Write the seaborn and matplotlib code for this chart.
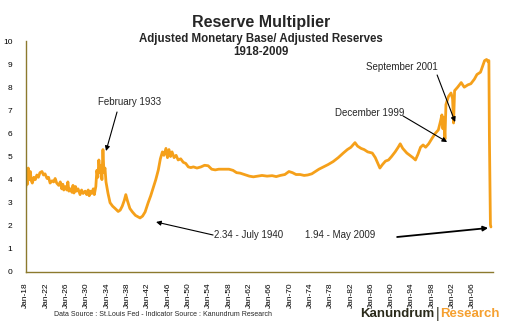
import numpy as np
import pandas as pd
import matplotlib
matplotlib.use("Agg")
import matplotlib.pyplot as plt
import seaborn as sns

# ---- data (fractional year, reserve multiplier) ----
years = [
    1918.0, 1918.2, 1918.35, 1918.5, 1918.7, 1918.9, 1919.1, 1919.3, 1919.6, 1919.9,
    1920.2, 1920.5, 1920.8, 1921.2, 1921.5, 1921.8, 1922.2, 1922.5, 1922.8, 1923.2,
    1923.5, 1923.8, 1924.1, 1924.5, 1924.8, 1925.1, 1925.3, 1925.5, 1925.8, 1926.1,
    1926.3, 1926.5, 1926.8, 1927.1, 1927.3, 1927.5, 1927.8, 1928.0, 1928.3, 1928.7,
    1929.0, 1929.3, 1929.7, 1930.0, 1930.3, 1930.5, 1930.8, 1931.0, 1931.3, 1931.5,
    1931.8, 1932.0, 1932.2, 1932.4, 1932.6, 1932.8, 1933.0, 1933.2, 1933.4, 1933.6,
    1933.8, 1934.2, 1934.6, 1935.1, 1935.6, 1936.2, 1936.6, 1937.0, 1937.4, 1937.7,
    1938.0, 1938.5, 1939.0, 1939.6, 1940.5, 1941.0, 1941.5, 1942.1, 1942.6, 1943.1,
    1943.6, 1944.1, 1944.5, 1944.9, 1945.2, 1945.6, 1945.9, 1946.2, 1946.5, 1946.8,
    1947.2, 1947.6, 1948.0, 1948.5, 1949.0, 1949.5, 1950.0, 1950.5, 1951.0, 1951.7,
    1952.5, 1953.2, 1953.9, 1954.6, 1955.3, 1956.0, 1957.0, 1958.0, 1958.8, 1959.5,
    1960.2, 1961.0, 1962.0, 1962.8, 1963.6, 1964.5, 1965.5, 1966.5, 1967.3, 1968.1,
    1969.0, 1969.8, 1970.5, 1971.2, 1972.0, 1972.8, 1973.5, 1974.3, 1975.0, 1975.7,
    1976.6, 1977.5, 1978.5, 1979.5, 1980.5, 1981.3, 1982.0, 1982.8, 1983.3, 1984.0,
    1984.6, 1985.3, 1986.2, 1986.8, 1987.4, 1987.7, 1988.2, 1988.8, 1989.4, 1990.0,
    1990.7, 1991.3, 1991.7, 1992.2, 1993.0, 1993.6, 1994.2, 1994.7, 1995.2, 1995.7,
    1996.2, 1996.7, 1997.3, 1998.0, 1998.6, 1999.2, 1999.6, 1999.9, 2000.1, 2000.3,
    2000.5, 2000.7, 2001.2, 2001.7, 2002.0, 2002.2, 2002.4, 2003.0, 2003.7, 2004.3,
    2005.0, 2005.6, 2006.3, 2006.8, 2007.5, 2007.9, 2008.3, 2008.7, 2009.0, 2009.15,
    2009.25, 2009.45, 2009.55,
]
multiplier = [
    3.65, 4.10, 3.80, 4.50, 4.00, 4.35, 3.95, 3.85, 4.10, 4.00,
    4.20, 4.10, 4.30, 4.35, 4.20, 4.25, 4.05, 4.10, 3.85, 3.95,
    3.90, 4.05, 3.85, 3.75, 3.90, 3.60, 3.80, 3.55, 3.70, 3.55,
    3.90, 3.50, 3.60, 3.45, 3.75, 3.42, 3.70, 3.50, 3.60, 3.35,
    3.55, 3.40, 3.50, 3.35, 3.55, 3.30, 3.50, 3.40, 3.60, 3.35,
    3.70, 4.40, 4.10, 4.85, 4.30, 4.60, 4.00, 5.30, 4.30, 4.50,
    3.90, 3.40, 3.00, 2.85, 2.75, 2.62, 2.68, 2.85, 3.10, 3.35,
    3.10, 2.75, 2.60, 2.45, 2.34, 2.42, 2.60, 3.00, 3.30, 3.65,
    4.00, 4.42, 4.90, 5.20, 5.05, 5.35, 4.95, 5.30, 5.00, 5.20,
    4.95, 5.05, 4.85, 4.90, 4.75, 4.70, 4.55, 4.52, 4.55, 4.50,
    4.55, 4.62, 4.60, 4.45, 4.42, 4.45, 4.45, 4.45, 4.40, 4.30,
    4.28, 4.22, 4.15, 4.12, 4.15, 4.18, 4.15, 4.17, 4.13, 4.18,
    4.22, 4.35, 4.30, 4.22, 4.22, 4.18, 4.20, 4.25, 4.35, 4.45,
    4.55, 4.65, 4.78, 4.95, 5.15, 5.30, 5.40, 5.60, 5.45, 5.35,
    5.30, 5.20, 5.15, 4.95, 4.65, 4.50, 4.65, 4.80, 4.85, 5.00,
    5.20, 5.40, 5.55, 5.35, 5.15, 5.05, 4.95, 4.85, 5.10, 5.40,
    5.50, 5.40, 5.55, 5.80, 6.00, 6.15, 6.50, 6.80, 6.20, 6.70,
    5.75, 7.25, 7.60, 7.75, 7.50, 6.45, 7.85, 8.00, 8.20, 8.00,
    8.10, 8.15, 8.35, 8.55, 8.65, 8.90, 9.15, 9.20, 9.10, 9.15,
    5.90, 2.05, 1.95,
]
tick_years = list(range(1918, 2007, 4))
tick_labels = ["Jan-%02d" % (y % 100) for y in tick_years]
y_ticks = list(range(0, 11))

df = pd.DataFrame({"year": years, "multiplier": multiplier})

sns.set_style("white")
plt.rcParams["font.family"] = ["Liberation Sans", "DejaVu Sans"]

W, H = 528, 336
fig = plt.figure(figsize=(W / 100, H / 100), dpi=100)
ax = fig.add_axes([25.7 / W, 1 - 272 / H, (492.7 - 25.7) / W, (272 - 41) / H])

sns.lineplot(data=df, x="year", y="multiplier", ax=ax, color="#F5A01A",
             linewidth=2.0, estimator=None, sort=False)

spine_col = "#8C7A2E"
ax.set_xlim(1918, 2009.9)
ax.set_ylim(0, 10)
ax.set_xticks(tick_years)
ax.set_xticklabels(tick_labels, rotation=90, fontsize=6)
ax.set_yticks(y_ticks)
ax.set_yticklabels([str(v) for v in y_ticks], fontsize=6)
ax.set_xlabel("")
ax.set_ylabel("")
for s in ["top", "right"]:
    ax.spines[s].set_visible(False)
for s in ["left", "bottom"]:
    ax.spines[s].set_color(spine_col)
    ax.spines[s].set_linewidth(1.0)
ax.tick_params(axis="both", which="major", direction="out", length=3.5,
               width=0.8, color=spine_col, pad=4, labelcolor="black")
ax.tick_params(axis="y", pad=6)
ax.grid(False)


def px2data(px, py):
    return (1918 + (px - 25.7) / 5.08, (272 - py) / 23.1)


def fpos(px, py):
    return (px / W, 1 - py / H)


# titles
fig.text(*fpos(261, 22), "Reserve Multiplier", ha="center", va="center",
         fontsize=11.5, fontweight="bold")
fig.text(*fpos(261, 39), "Adjusted Monetary Base/ Adjusted Reserves", ha="center",
         va="center", fontsize=8.3, fontweight="bold")
fig.text(*fpos(261, 52), "1918-2009", ha="center", va="center",
         fontsize=8.3, fontweight="bold")

# annotations
arrow = dict(arrowstyle="-|>", color="black", lw=0.8, mutation_scale=7,
             shrinkA=0, shrinkB=0)


def arr(tail, tip, lw=0.8):
    a = dict(arrow)
    a["lw"] = lw
    ax.annotate("", xy=px2data(*tip), xytext=px2data(*tail),
                xycoords="data", textcoords="data", arrowprops=a)


ax.text(*px2data(130, 102), "February 1933", ha="center", va="center", fontsize=7)
arr((117, 112), (106, 151))
ax.text(*px2data(214, 235), "2.34 - July 1940", ha="left", va="center", fontsize=7)
arr((213, 235), (156, 222))
ax.text(*px2data(305, 235), "1.94 - May 2009", ha="left", va="center", fontsize=7)
arr((397, 237), (488, 228), lw=1.3)
ax.text(*px2data(402, 67), "September 2001", ha="center", va="center", fontsize=7)
arr((437, 75), (455, 122))
ax.text(*px2data(370, 113), "December 1999", ha="center", va="center", fontsize=7)
arr((403, 116), (447, 142))

# footer
fig.text(*fpos(54, 314), "Data Source : St.Louis Fed - Indicator Source : Kanundrum Research",
         ha="left", va="center", fontsize=5)
t1 = fig.text(*fpos(360, 314), "Kanundrum", ha="left", va="center", fontsize=9.5,
              fontweight="bold", color="#2A2A1A")
fig.canvas.draw()
r = fig.canvas.get_renderer()
bb = t1.get_window_extent(r)
x_end = bb.x1  # pixels from left
t2 = fig.text((x_end + 3) / W, 1 - 314 / H, "|", ha="center", va="center", fontsize=10.5,
              color="#2A2A1A")
fig.text((x_end + 6) / W, 1 - 314 / H, "Research", ha="left", va="center", fontsize=9.5,
         fontweight="bold", color="#F5A030")

fig.savefig("out.png", dpi=100, facecolor="white")
